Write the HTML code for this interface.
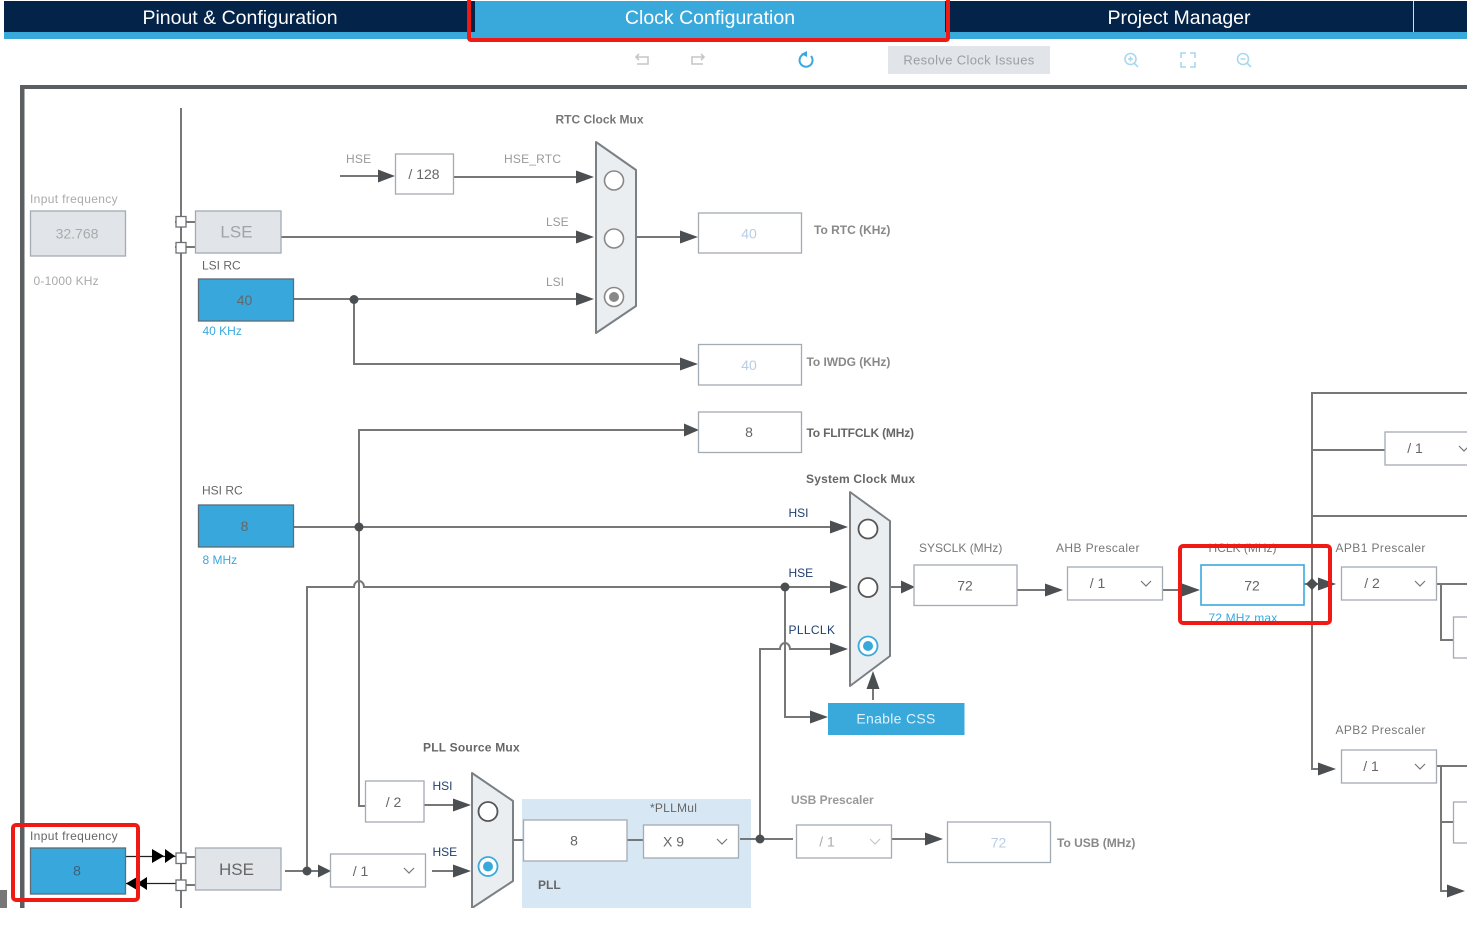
<!DOCTYPE html>
<html><head><meta charset="utf-8"><style>
html,body{margin:0;padding:0;background:#fff}
svg{display:block;filter:blur(.35px)}
text{font-family:"Liberation Sans",sans-serif;font-size:12px;fill:#777}
.h{font-size:19.500px;fill:#fff;text-anchor:middle}
.b{font-weight:bold;fill:#666}
.v{font-size:14px;fill:#666;text-anchor:middle}
.n{fill:#1f3f6e}
.c{fill:#39a9dc}
.w{fill:none;stroke:#777;stroke-width:2}
.bx{fill:#fff;stroke:#a3abb3;stroke-width:1.3}
.gr{fill:#e1e4e8;stroke:#a3abb3;stroke-width:1.3}
.bl{fill:#38a8dc;stroke:#5f6b75;stroke-width:1.3}
.m{fill:#eaeef1;stroke:#7b8085;stroke-width:2;stroke-linejoin:round}
.a{fill:#4c4f52}
.k{fill:#000}
.ch{fill:none;stroke:#777;stroke-width:1.2}
.r{fill:#fff;stroke:#888;stroke-width:1.6}
.rk{fill:#fff;stroke:#555;stroke-width:1.8}
.rs{fill:#fff;stroke:#39a9dc;stroke-width:1.8}
.red{fill:none;stroke:#f01a14;stroke-width:4}
.ic{fill:none;stroke:#a9d8ef;stroke-width:1.6}
.ug{fill:none;stroke:#c4c7ca;stroke-width:1.6}
</style></head><body>
<svg width="1481" height="935" viewBox="0 0 1481 935" xmlns="http://www.w3.org/2000/svg">
<rect width="1481" height="935" fill="#fff"/>
<!-- header -->
<rect x="4" y="1" width="1463" height="31" fill="#032349"/>
<rect x="4" y="32" width="1463" height="7" fill="#39a9dc"/>
<rect x="475" y="1" width="470" height="38" fill="#39a9dc"/>
<rect x="1413" y="1" width="1" height="31" fill="#d5dde6"/>
<text class="h" x="240" y="24">Pinout &amp; Configuration</text>
<text class="h" x="710" y="24">Clock Configuration</text>
<text class="h" x="1179" y="24">Project Manager</text>
<!-- toolbar -->
<path class="ug" d="M639 54l-3 3 3 3M636 57h12v7h-11"/>
<path class="ug" d="M701 54l3 3-3 3M704 57h-12v7h11"/>
<path d="M803 54.500A6.500 6.500 0 1 0 811 56" fill="none" stroke="#39a9dc" stroke-width="2"/>
<polygon points="801,54 807,51 807,57" fill="#39a9dc"/>
<rect x="888" y="46" width="162" height="28" fill="#e1e4e8"/>
<text x="969" y="64.500" text-anchor="middle" style="font-size:13px;fill:#9aa0a6;letter-spacing:.35px">Resolve Clock Issues</text>
<circle class="ic" cx="1130.500" cy="59" r="5.500"/><path class="ic" d="M1134 63l4 4M1128 59h5M1130.500 56.500v5"/>
<path class="ic" d="M1181 58v-5h5M1190 53h5v5M1195 62v5h-5M1186 67h-5v-5"/>
<circle class="ic" cx="1243" cy="59" r="5.500"/><path class="ic" d="M1247 63l4 4M1240.500 59h5"/>
<!-- frame -->
<rect x="20" y="85" width="1447" height="4" fill="#5c5f62"/>
<rect x="20" y="85" width="4.500" height="823" fill="#5c5f62"/>
<rect x="0" y="890" width="7" height="18" fill="#777"/>
<!-- PLL bg -->
<rect x="522" y="799" width="229" height="109" fill="#d8e7f4"/>
<!-- wires -->
<g class="w">
<path d="M181 108V908"/>
<path d="M340 176H380M454 177H580M281 237H580M294 299H580M637 237H685"/>
<path d="M354 299V364H685"/>
<path d="M294 527H835"/>
<path d="M695 430H359V806H366"/>
<path d="M285 871H318M307 871V587H354a5 6 0 0 1 10 0H835"/>
<path d="M785 587V717H815"/>
<path d="M760 839V649H780a5 6 0 0 1 10 0H835"/>
<path d="M890 587H902M1017 590H1050M1162 590H1186"/>
<path d="M1304 584H1322"/>
<path d="M1467 393H1312V769H1322M1312 450H1385M1312 516H1467"/>
<path d="M1436 584H1467M1441 584V640H1453"/>
<path d="M1436 766H1467M1441 766V891H1451M1441 822H1453"/>
<path d="M424 805H458M432 871H458"/>
<path d="M513 840H523M627 840H643M740 839H793M891 839H930"/>
<path d="M873 700V680"/>
<path d="M175 222H195M175 247H195"/>
<path d="M181 857H195M181 885H195"/>
</g>
<path d="M126 856.500H176M176 883.500H126" fill="none" stroke="#222" stroke-width="1.300"/>
<!-- arrows -->
<g class="a">
<polygon points="378,169.500 395,176 378,182.500"/>
<polygon points="576,170.500 594,177 576,183.500"/>
<polygon points="576,230.500 594,237 576,243.500"/>
<polygon points="576,292.500 594,299 576,305.500"/>
<polygon points="680,230.500 698,237 680,243.500"/>
<polygon points="680,357.500 698,364 680,370.500"/>
<polygon points="684,423.500 699,430 684,436.500"/>
<polygon points="830,520.500 848,527 830,533.500"/>
<polygon points="830,580.500 848,587 830,593.500"/>
<polygon points="830,642.500 848,649 830,655.500"/>
<polygon points="810,710.500 828,717 810,723.500"/>
<polygon points="901,580.500 915,587 901,593.500"/>
<polygon points="1045,583.500 1063,590 1045,596.500"/>
<polygon points="1182,583.500 1200,590 1182,596.500"/>
<polygon points="1318,577.500 1336,584 1318,590.500"/>
<polygon points="1318,762.500 1336,769 1318,775.500"/>
<polygon points="1447,884.500 1465,891 1447,897.500"/>
<polygon points="453,798.500 471,805 453,811.500"/>
<polygon points="453,864.500 471,871 453,877.500"/>
<polygon points="318,864.500 331,871 318,877.500"/>
<polygon points="925,832.500 943,839 925,845.500"/>
<polygon points="866.500,689 873,671 879.500,689"/>
</g>
<g class="k">
<polygon points="152,849 164,856 152,863"/>
<polygon points="165,849 175,856 165,863"/>
<polygon points="137,877 126,883.500 137,890"/>
<polygon points="147,877 137,883.500 147,890"/>
</g>
<g class="a">
<circle cx="354" cy="299.500" r="4.500"/>
<circle cx="359" cy="527" r="4.500"/>
<circle cx="785" cy="587" r="4.500"/>
<circle cx="760" cy="839" r="4.500"/>
<circle cx="307" cy="871" r="4.500"/>
<polygon points="1312,578 1318,584 1312,590 1306,584"/>
</g>
<!-- muxes -->
<polygon class="m" points="596,142 636,170 636,306 596,333"/>
<polygon class="m" points="850,492 890,521 890,656 850,686"/>
<polygon class="m" points="472,773 513,801 513,881 472,908"/>
<circle class="r" cx="614" cy="180.500" r="9.500"/>
<circle class="r" cx="614" cy="238.500" r="9.500"/>
<circle class="r" cx="614" cy="297" r="9.500"/><circle cx="614" cy="297" r="5" fill="#888"/>
<circle class="rk" cx="868" cy="529" r="9.500"/>
<circle class="rk" cx="868" cy="587.500" r="9.500"/>
<circle class="rs" cx="868" cy="646" r="9.500"/><circle cx="868" cy="646" r="5" fill="#39a9dc"/>
<circle class="rk" cx="488" cy="811.500" r="9.500"/>
<circle class="rs" cx="488" cy="866.500" r="9.500"/><circle cx="488" cy="866.500" r="5" fill="#39a9dc"/>
<!-- boxes -->
<rect class="gr" x="30.500" y="211" width="95" height="45"/>
<rect class="gr" x="195.500" y="211" width="85.500" height="42"/>
<rect class="bl" x="198.500" y="279" width="95" height="42"/>
<rect class="bl" x="198.500" y="505" width="95" height="42"/>
<rect class="gr" x="195.500" y="848" width="85.500" height="42"/>
<rect class="bl" x="30.500" y="848" width="95" height="46"/>
<rect class="bx" x="395.500" y="154" width="58" height="40"/>
<rect class="bx" x="698.500" y="213" width="103" height="40"/>
<rect class="bx" x="698.500" y="344.500" width="103" height="40.500"/>
<rect class="bx" x="698.500" y="412" width="103" height="40.500"/>
<rect class="bx" x="914" y="565" width="103" height="40.500"/>
<rect class="bx" x="1067.500" y="567" width="95" height="33"/>
<rect x="1201" y="565" width="103" height="40" fill="#fff" stroke="#39a9dc" stroke-width="1.600"/>
<rect class="bx" x="1385" y="432" width="90" height="33"/>
<rect class="bx" x="1341.500" y="567" width="95" height="33"/>
<rect class="bx" x="1453.500" y="617" width="30" height="41"/>
<rect class="bx" x="1341.500" y="750" width="95" height="33"/>
<rect class="bx" x="1453.500" y="802" width="30" height="41"/>
<rect class="bx" x="365.500" y="781" width="58.500" height="41"/>
<rect class="bx" x="330.500" y="854" width="95" height="33"/>
<rect class="bx" x="523.500" y="820" width="103.500" height="41"/>
<rect class="bx" x="643.500" y="825" width="95" height="33"/>
<rect class="bx" x="796.500" y="825" width="95" height="33"/>
<rect class="bx" x="947.500" y="822" width="103" height="40.500"/>
<rect x="828" y="703" width="136.500" height="32" fill="#39a9dc"/>
<g fill="#fff" stroke="#6d7075" stroke-width="1.300">
<rect x="176" y="216.500" width="10" height="10.500"/>
<rect x="176" y="242.500" width="10" height="10.500"/>
<rect x="176" y="853" width="10" height="10.500"/>
<rect x="176" y="880" width="10" height="10.500"/>
</g>
<!-- chevrons -->
<g class="ch">
<path d="M1141 581l5 5 5-5"/><path d="M1415 581l5 5 5-5"/><path d="M1459 446l5 5 5-5"/>
<path d="M1415 764l5 5 5-5"/><path d="M404 868l5 5 5-5"/><path d="M717 839l5 5 5-5"/>
<path d="M870 839l5 5 5-5" style="stroke:#c4c8cc"/>
</g>
<!-- labels -->
<text class="b" x="555.500" y="123.500" style="fill:#777">RTC Clock Mux</text>
<text x="346" y="163" style="fill:#999;letter-spacing:.2px">HSE</text>
<text x="504" y="163" style="fill:#999;letter-spacing:.2px">HSE_RTC</text>
<text x="546" y="226" style="fill:#999">LSE</text>
<text x="546" y="286" style="fill:#999">LSI</text>
<text x="30" y="203" style="fill:#aaa;letter-spacing:.35px">Input frequency</text>
<text x="33.500" y="285" style="fill:#aaa;letter-spacing:.2px">0-1000 KHz</text>
<text x="202" y="269.500" style="fill:#666">LSI RC</text>
<text class="c" x="202.500" y="335">40 KHz</text>
<text class="v" x="77" y="238.500" style="fill:#aaa;font-size:14px">32.768</text>
<text class="v" x="236.500" y="237.500" style="fill:#a0a4a8;font-size:17px">LSE</text>
<text class="v" x="244.500" y="305">40</text>
<text class="v" x="424" y="179">/ 128</text>
<text class="v" x="749" y="238.500" style="fill:#b8cde4">40</text>
<text class="v" x="749" y="370" style="fill:#b8cde4">40</text>
<text class="v" x="749" y="437">8</text>
<text class="b" x="814" y="234" style="fill:#888">To RTC (KHz)</text>
<text class="b" x="806.500" y="366" style="fill:#888;letter-spacing:-.05px">To IWDG (KHz)</text>
<text class="b" x="806.500" y="437" style="letter-spacing:-.18px">To FLITFCLK (MHz)</text>
<text class="b" x="806" y="483" style="letter-spacing:.2px">System Clock Mux</text>
<text x="202" y="494.500" style="fill:#666">HSI RC</text>
<text class="v" x="244.500" y="531">8</text>
<text class="c" x="202.500" y="564">8 MHz</text>
<text class="n" x="788.500" y="517">HSI</text>
<text class="n" x="788.500" y="577">HSE</text>
<text class="n" x="788.500" y="634" style="letter-spacing:.35px">PLLCLK</text>
<text x="919" y="552" style="fill:#777">SYSCLK (MHz)</text>
<text x="1056" y="552" style="letter-spacing:.4px">AHB Prescaler</text>
<text x="1208.500" y="552" style="fill:#777">HCLK (MHz)</text>
<text class="c" x="1208.500" y="622" style="letter-spacing:.15px">72 MHz max</text>
<text x="1335.500" y="552" style="letter-spacing:.4px">APB1 Prescaler</text>
<text x="1335.500" y="734" style="letter-spacing:.4px">APB2 Prescaler</text>
<text class="v" x="965" y="590.500">72</text>
<text class="v" x="1252" y="590.500">72</text>
<text class="v" x="1097.500" y="588">/ 1</text>
<text class="v" x="1415" y="453">/ 1</text>
<text class="v" x="1372" y="588">/ 2</text>
<text class="v" x="1371" y="771">/ 1</text>
<text x="896" y="723.500" text-anchor="middle" style="font-size:14px;fill:#dff1fa;letter-spacing:.3px">Enable CSS</text>
<text class="b" x="423" y="751.500" style="letter-spacing:.22px">PLL Source Mux</text>
<text class="n" x="432.500" y="790">HSI</text>
<text class="n" x="432.500" y="856">HSE</text>
<text class="v" x="393.500" y="807">/ 2</text>
<text class="v" x="360.500" y="876">/ 1</text>
<text class="v" x="574" y="845.500">8</text>
<text class="v" x="673.500" y="846.500">X 9</text>
<text x="650" y="812" style="fill:#666;letter-spacing:.25px">*PLLMul</text>
<text class="b" x="538" y="889">PLL</text>
<text class="b" x="791" y="804" style="fill:#999">USB Prescaler</text>
<text class="v" x="827" y="846.500" style="fill:#aaa">/ 1</text>
<text class="v" x="998.500" y="847.500" style="fill:#b8cde4">72</text>
<text class="b" x="1057" y="847" style="fill:#888">To USB (MHz)</text>
<text x="30" y="840" style="fill:#666;letter-spacing:.35px">Input frequency</text>
<text class="v" x="77" y="875.500" style="fill:#3d5f7a">8</text>
<text class="v" x="236.500" y="875" style="fill:#666;font-size:17px">HSE</text>
<!-- red highlights -->
<path class="red" d="M469 0V38a2 2 0 0 0 2 2H946a2 2 0 0 0 2-2V0"/>
<rect class="red" x="13" y="825" width="125" height="75" rx="3"/>
<rect class="red" x="1180" y="546" width="150" height="77" rx="3"/>
<!-- crop edges -->
<rect x="1467" y="0" width="14" height="935" fill="#fff"/>
<rect x="0" y="908" width="1481" height="27" fill="#fff"/>
</svg>
</body></html>
